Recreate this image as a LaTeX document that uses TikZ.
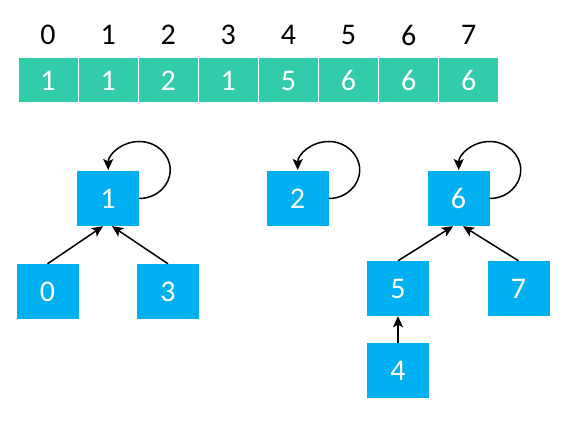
\documentclass[tikz,border=0pt]{standalone}
\usepackage{fontspec}
\setmainfont{Carlito}
\usetikzlibrary{arrows.meta,calc}
\definecolor{cellteal}{RGB}{51,204,170}
\definecolor{nodeblue}{RGB}{0,176,240}
\tikzset{
  cellbox/.style={fill=cellteal,draw=white,line width=1pt,minimum width=60.1pt,minimum height=45pt,inner sep=0pt,text=white,font=\fontsize{30}{33}\selectfont},
  idxlabel/.style={inner sep=0pt,font=\fontsize{30}{33}\selectfont},
  treenode/.style={fill=nodeblue,draw=none,minimum width=62pt,minimum height=55pt,inner sep=0pt,text=white,font=\fontsize{30}{33}\selectfont},
  link/.style={line width=1.5pt,-{Stealth[length=11pt,width=10pt,inset=2.5pt]}}
}
\begin{document}
\begin{tikzpicture}[x=1pt,y=1pt]
\useasboundingbox (0,0) rectangle (563,445);
% array
\foreach \i/\v in {0/1,1/1,2/2,3/1,4/5,5/6,6/6,7/6}{
  \node[cellbox] (c\i) at ({18+60.1*(\i+0.5)},364.5) {\v};
  \node[idxlabel] (i\i) at ({18+60.1*(\i+0.5)},410) {\i};
}
% trees
\node[treenode] (n1) at (108,246.5) {1};
\node[treenode] (n0) at (47.5,153.5) {0};
\node[treenode] (n3) at (168,153.5) {3};
\node[treenode] (n2) at (297.5,246.5) {2};
\node[treenode] (n6) at (458.5,246.5) {6};
\node[treenode] (n5) at (398,156.5) {5};
\node[treenode] (n7) at (518.5,156.5) {7};
\node[treenode] (n4) at (398,74.5) {4};
% edges
\draw[link] (n0.north) -- ($(n1.south)+(-5pt,0)$);
\draw[link] (n3.north) -- ($(n1.south)+(4pt,0)$);
\draw[link] (n5.north) -- ($(n6.south)+(-5.5pt,0)$);
\draw[link] (n7.north) -- ($(n6.south)+(4.5pt,0)$);
\draw[link] (n4.north) -- (n5.south);
% self loops
\draw[link] (n1.east) arc[start angle=-90,end angle=180,x radius=31pt,y radius=28.5pt];
\draw[link] (n2.east) arc[start angle=-90,end angle=180,x radius=31pt,y radius=28.5pt];
\draw[link] (n6.east) arc[start angle=-90,end angle=180,x radius=31pt,y radius=28.5pt];
\end{tikzpicture}
\end{document}
